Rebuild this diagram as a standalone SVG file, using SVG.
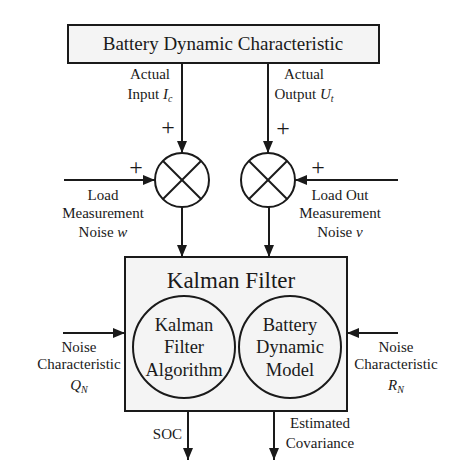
<svg xmlns="http://www.w3.org/2000/svg" width="474" height="474" viewBox="0 0 474 474" font-family="'Liberation Serif', 'Times New Roman', 'DejaVu Serif', serif">
<style>
text{font-family:'Liberation Serif','Times New Roman','DejaVu Serif',serif;fill:#1a1a1a;text-anchor:middle}
.s{font-size:15px}
.i{font-style:italic}
.sub{font-style:italic;font-size:10px}
.ln{stroke:#1a1a1a;stroke-width:2;fill:none}
.arr{stroke:#1a1a1a;stroke-width:2;fill:none;marker-end:url(#ah)}
.box{fill:#f4f4f4;stroke:#1a1a1a;stroke-width:2}
.circ{fill:#fff;stroke:#1a1a1a;stroke-width:2}
.plus{font-size:24px}
</style>
<defs>
<marker id="ah" markerUnits="userSpaceOnUse" markerWidth="12" markerHeight="10" refX="12" refY="5" orient="auto">
<path d="M0,0 L12,5 L0,10 z" fill="#1a1a1a"/>
</marker>
</defs>
<rect width="474" height="474" fill="#fff"/>
<g id="connectors">
<line class="arr" x1="182" y1="63" x2="182" y2="153"/>
<line class="arr" x1="268" y1="63" x2="268" y2="153"/>
<line class="arr" x1="64" y1="180" x2="155" y2="180"/>
<line class="arr" x1="398" y1="180" x2="295" y2="180"/>
<line class="arr" x1="182" y1="207" x2="182" y2="257"/>
<line class="arr" x1="269" y1="207" x2="269" y2="257"/>
<line class="arr" x1="63" y1="333" x2="125" y2="333"/>
<line class="arr" x1="398" y1="333" x2="347" y2="333"/>
<line class="arr" x1="188" y1="411" x2="188" y2="460"/>
<line class="arr" x1="274" y1="411" x2="274" y2="460"/>
</g>
<g id="battery-characteristic">
<rect class="box" x="68" y="25" width="311" height="38"/>
<text x="223" y="50" font-size="19">Battery Dynamic Characteristic</text>
</g>
<g id="sum-left">
<circle class="circ" cx="182" cy="180" r="27"/>
<line class="ln" x1="163" y1="161" x2="201" y2="199"/>
<line class="ln" x1="201" y1="161" x2="163" y2="199"/>
</g>
<g id="sum-right">
<circle class="circ" cx="268" cy="180" r="27"/>
<line class="ln" x1="249" y1="161" x2="287" y2="199"/>
<line class="ln" x1="287" y1="161" x2="249" y2="199"/>
</g>
<g id="kalman-filter">
<rect class="box" x="125" y="257" width="222" height="154"/>
<text x="231" y="288" font-size="23">Kalman Filter</text>
</g>
<g id="kf-algorithm">
<circle class="circ" cx="184" cy="347" r="51" style="fill:none"/>
<text x="184" y="331" font-size="18.5">Kalman</text>
<text x="184" y="353" font-size="18.5">Filter</text>
<text x="184" y="376" font-size="18.5">Algorithm</text>
</g>
<g id="battery-model">
<circle class="circ" cx="290" cy="347" r="51" style="fill:none"/>
<text x="290" y="331" font-size="18.5">Battery</text>
<text x="290" y="353" font-size="18.5">Dynamic</text>
<text x="290" y="376" font-size="18.5">Model</text>
</g>
<g id="labels">
<text class="s" x="150" y="79">Actual</text>
<text class="s" x="150" y="99">Input <tspan class="i">I</tspan><tspan class="sub" dy="3">c</tspan></text>
<text class="s" x="304" y="79">Actual</text>
<text class="s" x="304" y="99">Output <tspan class="i">U</tspan><tspan class="sub" dy="3">t</tspan></text>
<text class="plus" x="168" y="135">+</text>
<text class="plus" x="283" y="136">+</text>
<text class="plus" x="136" y="175">+</text>
<text class="plus" x="318" y="175">+</text>
<text class="s" x="103" y="200">Load</text>
<text class="s" x="103" y="218">Measurement</text>
<text class="s" x="103" y="237">Noise <tspan class="i">w</tspan></text>
<text class="s" x="340" y="200">Load Out</text>
<text class="s" x="340" y="218">Measurement</text>
<text class="s" x="340" y="237">Noise <tspan class="i">v</tspan></text>
<text class="s" x="79" y="352">Noise</text>
<text class="s" x="79" y="369">Characteristic</text>
<text class="s" x="79" y="390"><tspan class="i">Q</tspan><tspan class="sub" dy="3">N</tspan></text>
<text class="s" x="396" y="352">Noise</text>
<text class="s" x="396" y="369">Characteristic</text>
<text class="s" x="396" y="390"><tspan class="i">R</tspan><tspan class="sub" dy="3">N</tspan></text>
<text class="s" x="182" y="439" style="text-anchor:end">SOC</text>
<text class="s" x="320" y="428">Estimated</text>
<text class="s" x="320" y="448">Covariance</text>
</g>
</svg>
